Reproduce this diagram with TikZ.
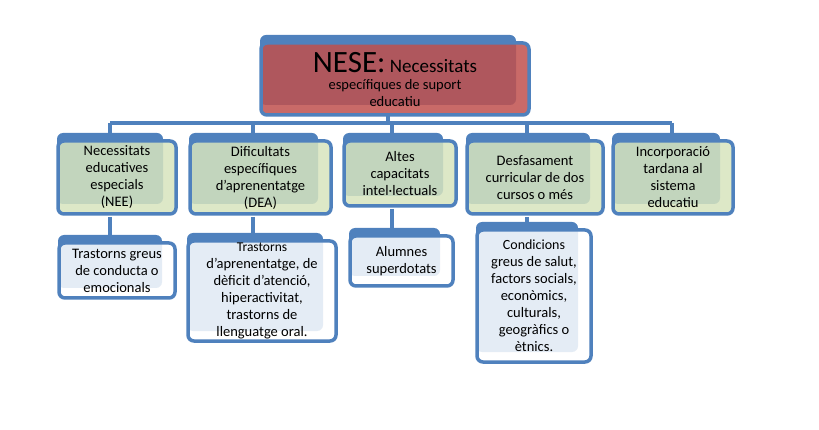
\documentclass[tikz,border=0pt]{standalone}
\usepackage{fontspec}
\setmainfont{Carlito}
\definecolor{bl}{HTML}{4F81BD}
\definecolor{rd}{HTML}{C0504D}
\definecolor{gr}{HTML}{D7E4BD}
\begin{document}
\begin{tikzpicture}[x=1pt,y=-1pt,
  back/.style={fill=bl,draw=none,rounded corners=6pt},
  front/.style={draw=bl,line width=3.5pt,rounded corners=6pt,fill opacity=0.85,text opacity=1,align=center,font=\fontsize{14.5}{17}\selectfont},
  link/.style={draw=bl,line width=3.5pt}]
\useasboundingbox (0,0) rectangle (819,430);
\draw[link] (388,114) -- (388,123);
\draw[link] (110,123) -- (672,123);
\foreach \x in {110,253,392,527,672}{\draw[link] (\x,123) -- (\x,133);}
\foreach \x/\a/\b in {110/217/235,253/217/233,392/209/228,527/217/222}{\draw[link] (\x,\a) -- (\x,\b);}
\newcommand{\bx}[7]{%
  \fill[back] (#2,#3) rectangle (#4,#5);
  \node[front,fill=#6,minimum width=#4-#2+12pt,minimum height=#5-#3+2pt,inner sep=1pt] (#1) at ({(#2+#4)/2+7},{(#3+#5)/2+9}) {#7};}
\bx{top}{260}{35}{516}{105}{rd}{\fontsize{19}{22}\selectfont{\fontsize{31}{31}\selectfont NESE:} Necessitats\\específiques de suport\\educatiu}
\bx{nee}{57}{133}{163}{204}{gr}{Necessitats\\educatives\\especials\\(NEE)}
\bx{dea}{189}{133}{318}{204}{gr}{Dificultats\\específiques\\d'aprenentatge\\(DEA)}
\bx{alt}{343}{133}{443}{196}{gr}{Altes\\capacitats\\intel·lectuals}
\bx{des}{466}{133}{590}{204}{gr}{Desfasament\\curricular de dos\\cursos o més}
\bx{inc}{612}{133}{720}{204}{gr}{Incorporació\\tardana al\\sistema\\educatiu}
\bx{tg}{58}{235}{162}{288}{white}{Trastorns greus\\de conducta o\\emocionals}
\bx{ta}{187}{233}{323}{331}{white}{\fontsize{13.5}{16.5}\selectfont Trastorns\\d'aprenentatge, de\\dèficit d'atenció,\\hiperactivitat,\\trastorns de\\llenguatge oral.}
\bx{al}{349}{228}{440}{276}{white}{Alumnes\\superdotats}
\bx{co}{476}{222}{578}{352}{white}{\fontsize{14}{16.5}\selectfont Condicions\\greus de salut,\\factors socials,\\econòmics,\\culturals,\\geogràfics o\\ètnics.}
\end{tikzpicture}
\end{document}
